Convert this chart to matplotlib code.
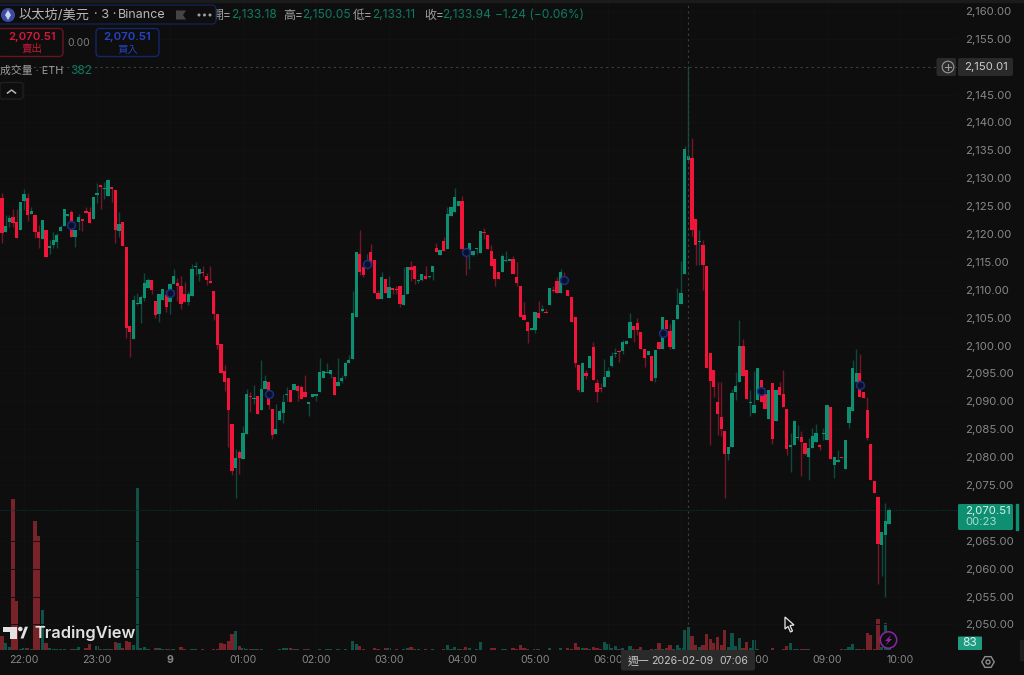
import numpy as np
import matplotlib
matplotlib.use('Agg')
import matplotlib.pyplot as plt
from matplotlib.patches import Rectangle, FancyBboxPatch, Polygon, Circle

plt.rcParams['font.family'] = ['Inter', 'Noto Sans CJK TC', 'DejaVu Sans']

# 3 minute candles, index 0 is 22:00
first_bar = -6

opens = [2126.4,2120.3,2122.2,2123.1,2122.1,2120.7,2125.9,2126.4,2123.6,2123.4,
 2120.4,2119.1,2120.8,2117.5,2118.1,2118.6,2120.5,2121.5,2123.3,2123.9,
 2119.4,2122.2,2122.7,2124.1,2123.9,2122.7,2127.0,2128.7,2128.0,2126.8,
 2128.4,2127.9,2120.5,2122.2,2117.7,2103.5,2101.2,2107.4,2107.5,2108.6,
 2110.4,2111.8,2107.9,2105.7,2108.2,2109.1,2107.8,2111.0,2111.3,2110.7,
 2109.2,2107.8,2108.8,2114.1,2112.8,2113.1,2112.4,2111.5,2109.8,2105.6,
 2100.2,2095.4,2094.2,2085.9,2078.0,2080.9,2079.7,2084.1,2090.9,2090.4,
 2090.9,2088.4,2092.3,2093.5,2088.6,2084.2,2086.7,2088.0,2091.2,2092.1,
 2092.0,2092.8,2092.5,2091.7,2089.6,2090.8,2091.0,2091.6,2094.2,2095.0,
 2094.9,2094.4,2092.8,2093.7,2094.5,2096.8,2097.6,2105.2,2116.4,2114.0,
 2114.2,2116.8,2115.3,2109.4,2108.3,2112.0,2108.5,2110.3,2110.1,2110.7,
 2107.2,2109.2,2114.0,2114.3,2111.6,2111.7,2112.5,2112.2,2113.2,2117.4,
 2116.3,2118.7,2117.3,2123.2,2124.0,2125.1,2126.0,2117.1,2117.1,2116.2,
 2117.3,2116.6,2120.4,2119.8,2116.9,2115.6,2113.1,2113.2,2115.2,2115.1,
 2115.5,2112.3,2110.6,2105.4,2104.3,2102.7,2102.8,2105.9,2106.2,2106.0,
 2107.3,2110.0,2111.5,2109.4,2112.4,2110.0,2108.7,2105.1,2096.6,2091.7,
 2095.1,2095.9,2099.7,2093.2,2092.4,2092.5,2094.3,2096.4,2098.4,2099.0,
 2099.0,2100.3,2101.3,2103.5,2104.0,2102.4,2099.4,2098.3,2098.1,2094.2,
 2100.6,2099.3,2104.6,2102.6,2099.4,2104.7,2107.4,2112.9,2133.18,2133.7,
 2122.7,2118.6,2118.0,2114.3,2098.6,2095.6,2089.8,2087.2,2084.7,2080.6,
 2081.9,2091.6,2093.4,2100.0,2095.6,2089.7,2088.0,2090.2,2093.8,2091.4,
 2086.8,2093.2,2086.5,2092.5,2091.3,2088.6,2081.75,2082.1,2083.4,2083.6,
 2082.6,2080.1,2081.7,2082.8,2082.2,2084.2,2083.0,2089.0,2078.5,2079.2,
 2080.1,2077.9,2086.1,2088.3,2093.4,2095.0,2091.6,2088.4,2082.3,2075.7,
 2072.8,2064.2,2066.0,2068.0]

highs = [2127.4,2123.4,2123.4,2124.4,2124.4,2125.8,2128.1,2127.3,2124.9,2123.4,
 2121.6,2122.5,2120.8,2118.9,2120.4,2120.1,2121.6,2124.5,2123.6,2124.3,
 2120.7,2123.6,2122.7,2124.9,2124.8,2126.7,2129.1,2128.7,2129.4,2129.8,
 2128.4,2127.9,2124.0,2122.2,2117.7,2103.5,2109.0,2109.4,2109.1,2113.0,
 2112.1,2111.8,2107.9,2109.3,2110.1,2110.0,2111.2,2113.7,2112.1,2112.4,
 2111.4,2109.8,2114.6,2115.0,2113.7,2114.2,2113.0,2114.2,2109.8,2105.6,
 2100.2,2096.5,2094.2,2085.9,2081.4,2081.3,2085.6,2092.3,2091.6,2092.9,
 2090.9,2097.4,2094.7,2093.5,2088.6,2089.6,2088.6,2091.3,2092.6,2092.1,
 2093.1,2092.9,2092.9,2094.8,2089.9,2091.3,2091.4,2097.8,2095.4,2096.8,
 2095.6,2094.4,2097.7,2094.7,2097.1,2098.3,2109.7,2116.8,2120.7,2114.0,
 2116.5,2118.2,2115.3,2110.0,2113.1,2112.0,2112.5,2110.3,2110.6,2110.7,
 2114.0,2114.0,2115.2,2114.3,2111.9,2112.8,2114.3,2112.4,2114.3,2118.3,
 2117.2,2119.5,2124.9,2124.8,2128.2,2126.0,2126.8,2117.3,2118.3,2116.9,
 2117.4,2120.5,2121.0,2119.8,2118.0,2115.6,2113.1,2116.5,2117.0,2115.6,
 2116.1,2114.9,2110.6,2107.8,2104.3,2103.2,2106.0,2107.9,2107.2,2106.5,
 2110.4,2110.6,2112.2,2113.8,2113.1,2110.0,2108.7,2105.1,2096.6,2097.1,
 2095.6,2098.2,2100.6,2094.0,2093.2,2097.6,2096.2,2098.9,2099.5,2099.2,
 2101.0,2101.0,2105.9,2103.5,2105.0,2102.4,2099.4,2099.1,2098.1,2099.2,
 2100.6,2105.1,2104.6,2103.9,2104.6,2110.3,2115.2,2135.8,2150.05,2137.2,
 2122.7,2120.8,2118.9,2114.3,2098.6,2095.6,2093.4,2093.4,2084.7,2081.9,
 2092.3,2095.3,2104.6,2101.1,2095.6,2092.0,2095.5,2096.0,2093.8,2091.4,
 2092.1,2093.2,2092.0,2093.5,2095.7,2088.6,2084.3,2086.6,2085.8,2084.6,
 2082.6,2083.4,2085.2,2086.0,2082.4,2085.2,2089.3,2089.0,2080.0,2081.3,
 2080.1,2083.1,2088.9,2097.4,2099.3,2098.5,2091.6,2090.7,2082.3,2075.7,
 2072.8,2066.5,2071.7,2070.8]

lows = [2118.3,2120.3,2121.3,2121.3,2119.3,2120.7,2124.3,2122.4,2123.6,2119.2,
 2117.4,2119.1,2115.9,2116.5,2117.4,2117.5,2120.5,2121.5,2123.3,2119.4,
 2117.6,2120.7,2120.6,2123.8,2122.0,2122.7,2125.5,2124.4,2126.3,2126.8,
 2125.8,2118.3,2119.5,2117.8,2101.3,2097.9,2101.2,2107.3,2104.0,2107.9,
 2110.4,2109.2,2105.0,2104.2,2108.2,2106.1,2105.7,2111.0,2107.9,2106.5,
 2107.8,2107.2,2108.8,2112.6,2111.6,2112.4,2110.9,2111.2,2104.5,2099.4,
 2095.1,2091.9,2081.8,2076.8,2072.6,2077.0,2079.7,2084.1,2088.1,2089.6,
 2087.8,2088.4,2092.3,2088.7,2083.2,2084.2,2086.7,2086.2,2090.0,2089.9,
 2092.0,2090.1,2090.4,2090.7,2087.4,2090.8,2090.1,2091.6,2094.2,2095.0,
 2094.1,2091.1,2092.8,2093.2,2094.1,2096.8,2097.6,2105.2,2112.6,2112.2,
 2113.8,2114.3,2109.5,2108.3,2108.3,2109.4,2108.5,2109.2,2109.2,2106.9,
 2107.2,2109.2,2111.6,2111.0,2111.3,2111.5,2112.0,2112.1,2111.7,2116.8,
 2116.3,2116.9,2117.3,2123.2,2124.0,2125.1,2117.3,2112.6,2113.8,2116.0,
 2116.5,2116.6,2119.1,2117.3,2114.3,2110.6,2111.9,2113.2,2115.0,2115.1,
 2112.8,2110.7,2105.2,2104.6,2100.4,2102.7,2102.2,2105.0,2106.1,2105.8,
 2107.3,2109.6,2109.5,2109.4,2111.3,2108.8,2104.3,2096.1,2091.7,2091.7,
 2094.0,2095.9,2093.9,2089.8,2091.7,2092.5,2094.3,2096.2,2098.0,2097.1,
 2098.5,2100.3,2101.3,2100.6,2101.9,2099.4,2096.2,2098.3,2093.7,2093.5,
 2099.3,2099.3,2102.9,2099.4,2099.4,2104.7,2107.4,2112.9,2133.11,2119.6,
 2114.4,2114.4,2109.9,2095.9,2082.2,2090.8,2084.0,2083.7,2072.6,2079.4,
 2081.9,2090.2,2093.4,2094.6,2090.4,2087.3,2088.0,2090.2,2089.8,2088.7,
 2086.8,2082.3,2086.5,2091.2,2088.9,2080.3,2077.4,2082.1,2083.1,2076.6,
 2080.4,2075.9,2081.7,2082.8,2081.3,2083.1,2083.0,2079.7,2076.2,2079.2,
 2079.8,2077.9,2085.3,2088.3,2093.4,2090.7,2090.6,2083.1,2075.9,2073.6,
 2057.3,2058.7,2054.9,2068.0]

closes = [2120.2,2121.4,2122.8,2122.0,2119.3,2125.8,2127.2,2123.4,2124.2,2120.4,
 2119.3,2122.5,2115.9,2117.9,2118.9,2119.9,2121.3,2124.5,2123.6,2119.4,
 2120.7,2123.0,2122.3,2123.8,2122.0,2126.7,2127.3,2128.5,2128.1,2129.7,
 2128.0,2120.8,2121.8,2117.8,2103.2,2102.4,2108.2,2107.7,2108.7,2111.2,
 2111.8,2110.0,2105.5,2109.3,2110.1,2106.9,2111.1,2112.4,2110.6,2107.5,
 2107.8,2109.2,2113.7,2114.3,2113.7,2113.0,2111.7,2111.2,2105.7,2100.1,
 2095.1,2093.4,2088.4,2077.5,2079.8,2079.8,2084.3,2091.4,2090.7,2090.5,
 2087.8,2092.3,2093.7,2089.4,2083.9,2085.0,2088.2,2089.8,2091.4,2089.9,
 2093.1,2091.9,2090.4,2090.7,2089.9,2091.3,2091.4,2095.3,2095.4,2095.2,
 2095.6,2091.1,2093.5,2094.1,2096.8,2097.35,2105.9,2116.8,2113.1,2112.7,
 2115.0,2114.3,2109.5,2108.3,2112.2,2109.4,2110.5,2110.0,2110.0,2107.5,
 2109.1,2114.0,2113.6,2111.9,2111.8,2112.8,2112.0,2112.4,2114.3,2116.8,
 2117.2,2116.9,2123.5,2124.8,2126.6,2126.0,2117.3,2116.5,2118.3,2116.9,
 2117.4,2120.5,2120.2,2117.3,2114.3,2112.0,2111.9,2116.0,2115.3,2115.6,
 2112.8,2111.3,2105.2,2104.6,2102.6,2103.2,2106.0,2105.0,2106.6,2105.8,
 2110.4,2109.7,2109.5,2113.2,2111.3,2108.8,2104.3,2096.8,2092.1,2096.8,
 2094.6,2098.2,2093.9,2091.7,2092.2,2094.4,2095.4,2098.1,2098.5,2098.9,
 2100.6,2100.8,2104.2,2102.7,2102.8,2099.4,2097.8,2099.1,2093.7,2099.2,
 2099.3,2105.1,2102.9,2099.7,2104.6,2107.3,2109.4,2135.2,2133.94,2120.8,
 2118.1,2118.7,2114.4,2095.9,2093.7,2092.6,2087.8,2085.0,2080.6,2081.9,
 2091.5,2092.7,2099.9,2094.6,2090.4,2089.9,2089.3,2096.0,2089.8,2088.7,
 2092.1,2083.3,2092.0,2091.2,2088.9,2081.4,2082.1,2086.5,2083.5,2082.7,
 2080.6,2081.6,2083.7,2084.3,2081.9,2084.3,2089.3,2079.7,2080.0,2079.4,
 2079.9,2083.1,2088.9,2095.9,2095.0,2090.7,2090.6,2083.4,2075.9,2073.6,
 2064.4,2066.5,2068.6,2070.51]

volumes = [235,112,56,2531,823,17,28,39,11,2167,1915,672,112,
 28,22,22,17,22,6,11,17,56,6,39,95,6,62,22,22,17,17,140,123,34,151,129,90,2716,
 28,45,22,6,28,28,11,17,22,22,6,50,11,6,11,11,6,11,6,6,11,22,112,95,157,269,325,62,
 34,22,22,17,11,17,6,6,6,6,11,28,39,34,17,11,6,11,17,6,6,11,6,11,11,6,22,6,11,6,
 146,101,67,11,6,6,39,22,6,28,
 28,6,17,6,22,28,45,11,17,6,
 17,6,17,6,6,17,84,11,56,22,
 11,45,39,6,17,129,6,6,28,34,
 6,17,11,6,39,22,84,28,17,6,
 17,11,6,6,34,6,6,39,6,34,
 22,118,45,34,39,11,45,34,22,140,
 106,39,67,22,39,6,73,22,11,50,
 6,6,11,22,118,22,39,84,11,78,
 39,336,382,241,84,56,84,263,185,123,
 224,84,336,45,291,67,196,28,129,34,
 168,17,6,6,6,28,6,6,11,67,
 123,17,22,11,22,11,6,6,6,6,
 6,6,6,6,17,11,50,95,11,17,
 11,291,258,11,526,56,448,83]

# bars carrying the blue trade markers and where the ring sits
marker_bars = [13,40,67,94,121,148,175,202,229]
marker_prices = [2121.6,2109.5,2091.4,2114.6,2116.8,2111.8,2102.3,2091.9,2092.9]

# 07:00 sits under the crosshair time label, so it stays blank
hour_bars = [0,20,40,60,80,100,120,140,160,180,200,220,240]
hour_labels = ['22:00','23:00','9','01:00','02:00','03:00','04:00','05:00','06:00','','08:00','09:00','10:00']
price_ticks = [2050,2055,2060,2065,2075,2080,2085,2090,2095,2100,2105,2110,2115,2120,
               2125,2130,2135,2140,2145,2155,2160]

cross_bar = 182
cross_price = 2150.01
last_price = 2070.51

BG = '#0e0e0e'
UP = '#0f8f72'
DOWN = '#f2153a'
UP_WICK = '#0d4a3d'
DOWN_WICK = '#741628'
UP_VOL = '#0f5348'
DOWN_VOL = '#782329'
GRID = '#121212'
LABEL = '#868686'

fig = plt.figure(figsize=(10.24, 6.75), dpi=100, facecolor=BG)
ax = fig.add_axes([0, 23 / 675, 957 / 1024, 652 / 675], facecolor='none', zorder=2)
ax_vol = fig.add_axes([0, 23 / 675, 957 / 1024, 652 / 675], facecolor=BG, zorder=1)

bars = np.arange(first_bar, first_bar + len(opens))
o = np.array(opens)
c = np.array(closes)
up = c >= o

ax.vlines(bars, lows, highs, colors=[UP_WICK if u else DOWN_WICK for u in up], linewidth=1, zorder=2)
ax.bar(bars, np.maximum(np.abs(c - o), 0.2), bottom=np.minimum(o, c), width=0.88,
       color=[UP if u else DOWN for u in up], linewidth=0, zorder=3)
ax.plot(marker_bars, marker_prices, 'o', ms=5.6, mfc='#0c1026', mec='#1a2f86', mew=1.1, ls='none', zorder=4)

ax.axhline(cross_price, color='#3e3e3e', lw=0.8, ls=(0, (2, 3)), zorder=5)
ax.axvline(cross_bar, color='#3e3e3e', lw=0.8, ls=(0, (2, 3)), zorder=5)
ax.axhline(last_price, color='#0e3029', lw=0.8, ls=(0, (1, 1)), zorder=1)

ax.set_xlim(-24 / 3.65, 933 / 3.65)
ax.set_ylim(2045.07, 2161.94)
ax.yaxis.tick_right()
ax.set_yticks(price_ticks)
ax.set_yticklabels(['{:,.2f}'.format(p) for p in price_ticks])
ax.set_xticks(hour_bars)
ax.set_xticklabels(hour_labels)
ax.tick_params(axis='y', length=0, pad=5.8, labelsize=8.2, labelcolor=LABEL)
ax.tick_params(axis='x', length=0, pad=2.5, labelsize=7.6, labelcolor=LABEL)
ax.get_xticklabels()[2].set_fontweight('bold')
ax.grid(True, color=GRID, lw=0.7)
ax.set_axisbelow(True)
for s in ax.spines.values():
    s.set_visible(False)

ax_vol.bar(bars, volumes, width=0.88, color=[UP_VOL if u else DOWN_VOL for u in up], linewidth=0)
ax_vol.set_xlim(ax.get_xlim())
ax_vol.set_ylim(-2 * 16.8, 650 * 16.8)
ax_vol.axis('off')
ax_vol.add_patch(Rectangle((0, 0), 1, 1, transform=ax_vol.transAxes, color=BG, zorder=0))

# everything that is interface chrome goes on a pixel overlay
ov = fig.add_axes([0, 0, 1, 1], facecolor='none', zorder=5)
ov.set_xlim(0, 1024)
ov.set_ylim(675, 0)
ov.axis('off')


def box(x0, y0, x1, y1, fc, ec='none', r=2, lw=1, z=3):
    ov.add_patch(FancyBboxPatch((x0, y0), x1 - x0, y1 - y0, boxstyle='round,pad=0,rounding_size=%s' % r,
                                fc=fc, ec=ec, lw=lw, zorder=z))


def label(x, y, s, color='#b4b4b4', size=8.2, ha='left', weight='normal', z=5):
    ov.text(x, y, s, color=color, fontsize=size, ha=ha, va='center', fontweight=weight, zorder=z)


GREEN_TXT = '#0e7a60'
ov.add_patch(Rectangle((0, 0), 1024, 2, color='#1b1b1b', zorder=1))

# ohlc legend, the title box hides the left half of the first sign
label(211.5, 15.5, '開=', color='#a0a0a0', size=8.6, z=2)
label(231, 15.5, '2,133.18', color=GREEN_TXT, size=8.6)
label(283, 15.5, '高=', color='#a0a0a0', size=8.6)
label(302, 15.5, '2,150.05', color=GREEN_TXT, size=8.6)
label(353, 15.5, '低=', color='#a0a0a0', size=8.6)
label(372, 15.5, '2,133.11', color=GREEN_TXT, size=8.6)
label(424, 15.5, '收=', color='#a0a0a0', size=8.6)
label(442, 15.5, '2,133.94', color=GREEN_TXT, size=8.6)
label(495, 15.5, '−1.24 (−0.06%)', color=GREEN_TXT, size=8.6)

# symbol title
box(-6, 5, 216, 24, BG, ec='#14224f', r=4)
ov.add_patch(Circle((8, 15), 7, fc='#3c4c9c', ec='none', zorder=4))
ov.add_patch(Polygon([(8, 10), (11, 15), (8, 20), (5, 15)], fc='#c9d2f2', ec='none', zorder=5))
label(19, 15.5, '以太坊/美元', color='#b8b8b8', size=9.5)
label(93.5, 15.5, '· 3 ·', color='#b8b8b8', size=9.2)
label(118, 15.5, 'Binance', color='#b8b8b8', size=9)
ov.add_patch(Polygon([(176, 10.5), (186, 10.5), (183, 15), (186, 19.5), (176, 19.5)], fc='#444444', ec='none', zorder=4))
for dx in [199, 204.5, 210]:
    ov.add_patch(Circle((dx, 15), 1.5, fc='#a0a0a0', ec='none', zorder=4))

# sell / buy buttons
box(-2, 28.5, 63, 56.5, BG, ec='#6a1423', r=4)
label(32, 37.5, '2,070.51', color='#d4193a', size=8.2, ha='center', weight='semibold')
label(32, 49, '賣出', color='#c01836', size=7.5, ha='center')
label(79, 42.5, '0.00', color='#7e7e7e', size=7.5, ha='center')
box(96, 28.5, 159, 56.5, BG, ec='#14276a', r=4)
label(127.5, 37.5, '2,070.51', color='#2744c8', size=8.2, ha='center', weight='semibold')
label(127.5, 49, '買入', color='#2540b8', size=7.5, ha='center')

# volume legend and chevron button
label(0, 70.5, '成交量 · ETH', color='#9c9c9c', size=7.8)
label(70, 70.5, '382', color='#0e7a60', size=8.6)
box(0, 82.5, 23, 99, BG, ec='#202020', r=2.5)
ov.plot([7.5, 11.5, 15.5], [93, 90, 93], color='#b8b8b8', lw=1.1, zorder=5)

# crosshair price label with the plus button
box(936.5, 58, 956, 76, '#2a2a2a', r=2)
ov.add_patch(Circle((948, 67), 5.8, fc='none', ec='#9a9a9a', lw=0.8, zorder=5))
ov.plot([945, 951], [67, 67], color='#9a9a9a', lw=0.8, zorder=5)
ov.plot([948, 948], [64, 70], color='#9a9a9a', lw=0.8, zorder=5)
box(958, 58, 1013, 76, '#2a2a2a', r=2)
label(986, 66.5, '{:,.2f}'.format(cross_price), color='#cccccc', ha='center')

# last price label
box(958, 504, 1013, 530, '#0f8f72', r=1.5)
label(965, 511, '{:,.2f}'.format(last_price), color='#d9efe9', size=8.2)
label(965, 522, '00:23', color='#a5dccf', size=8.2)
ov.add_patch(Rectangle((1015.5, 504), 2.5, 26, color='#0f8f72', zorder=3))

# volume label
box(958, 636.5, 982, 650, '#1d9c82', r=1)
label(970, 643.5, '83', color='#d9efe9', size=8.6, ha='center')

# time axis crosshair label
box(621, 650, 755, 670.5, '#2a2a2a', r=2)
label(627.5, 661.5, '週一', color='#c6c6c6', size=7.8)
label(651, 661.5, '2026-02-09', color='#c6c6c6', size=7.6)
label(719, 661.5, '07:06', color='#c6c6c6', size=7.6)

# settings button at the corner of the scales
t = np.linspace(0, 2 * np.pi, 7)
ov.add_patch(Polygon(np.c_[988 + 6.2 * np.cos(t), 662 + 6.2 * np.sin(t)], fc='none', ec='#8c8c8c', lw=1, zorder=5))
ov.add_patch(Circle((988, 662), 2, fc='none', ec='#8c8c8c', lw=1, zorder=5))
ov.add_patch(Rectangle((1020, 640), 4, 20, color='#1d1d1d', zorder=3))

# bolt badge
ov.add_patch(Circle((888.5, 640), 8.2, fc=BG, ec='#8d24a8', lw=1.1, zorder=4))
ov.add_patch(Polygon([(891, 635), (885, 641), (888, 641), (886, 645), (892, 639), (889, 639)], fc='#8d24a8', ec='none', zorder=5))

# TradingView watermark
ov.add_patch(Polygon([(3, 626.7), (17, 626.7), (17, 638.5), (9.7, 638.5), (9.7, 632), (3, 632)], fc='#e2e2e2', ec='none', zorder=6))
ov.add_patch(Circle((20.3, 629), 2.3, fc='#e2e2e2', ec='none', zorder=6))
ov.add_patch(Polygon([(20.5, 638.5), (25, 626.7), (28, 626.7), (23.5, 638.5)], fc='#e2e2e2', ec='none', zorder=6))
label(34.5, 633, 'TradingView', color='#e2e2e2', size=11.8, weight='semibold', z=6)

# mouse pointer
ov.add_patch(Polygon([(785, 617), (785, 629), (788, 626.5), (790.5, 632), (792.5, 631), (790, 625.5), (794, 625)],
                     fc='#101010', ec='#e8e8e8', lw=0.9, zorder=7))

fig.savefig('out.png', dpi=100, facecolor=BG)
